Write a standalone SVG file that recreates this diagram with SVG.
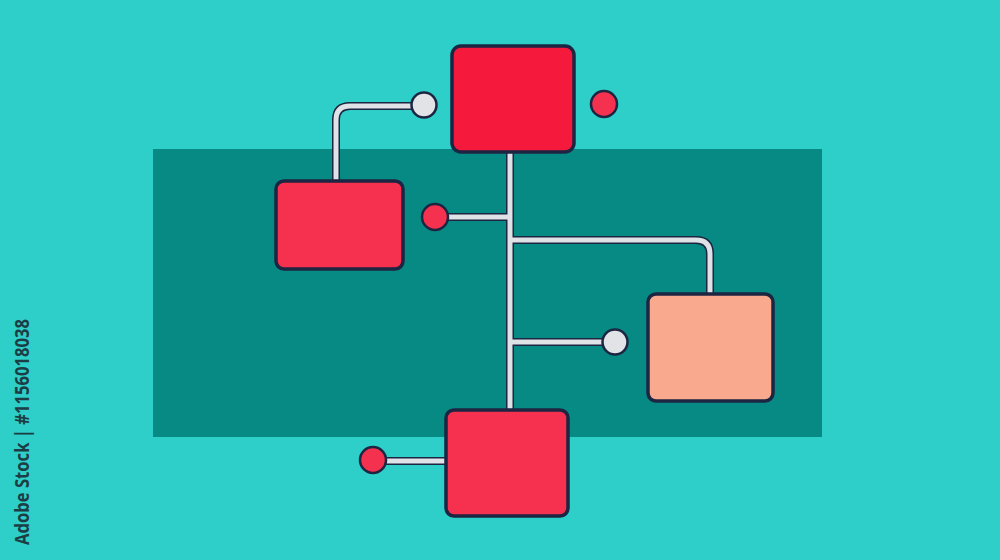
<svg xmlns="http://www.w3.org/2000/svg" width="1000" height="560" viewBox="0 0 1000 560">
<style>
.box{stroke:#1c2541;stroke-width:3.5}
.red{fill:#f6314f}
.red2{fill:#f51a3c}
.peach{fill:#f9aa8e}
.wire-o{fill:none;stroke:#1c2541;stroke-width:8;stroke-linecap:butt}
.wire-i{fill:none;stroke:#dfe2e6;stroke-width:5;stroke-linecap:butt}
.dot{stroke:#1c2541;stroke-width:2.5}
.dred{fill:#f53150}
.dgrey{fill:#e2e3e6}
.label{font-family:"Open Sans","Liberation Sans",sans-serif;font-weight:700;font-size:19px;fill:#1d3d45}
</style>
<rect width="1000" height="560" fill="#2ecfc8"/>
<rect id="panel" x="153" y="149" width="669" height="288" fill="#078a83"/>
<g id="connectors">
  <path class="wire-o" d="M510 153 V410 M336 182 V120 Q336 106 350 106 H412 M448 217 H510 M510 240 H696 Q710 240 710 254 V295 M510 342 H603 M386 461 H447"/>
  <path class="wire-i" d="M510 153 V410 M336 182 V120 Q336 106 350 106 H412 M448 217 H508 M512 240 H696 Q710 240 710 254 V295 M512 342 H603 M386 461 H447"/>
</g>
<g id="node-top"><rect class="box red2" x="452" y="46" width="122" height="106" rx="9"/></g>
<g id="node-left"><rect class="box red" x="276" y="181" width="127" height="88" rx="8"/></g>
<g id="node-right"><rect class="box peach" x="648" y="294" width="125" height="107" rx="8"/></g>
<g id="node-bottom"><rect class="box red" x="446" y="410" width="122" height="106" rx="8"/></g>
<g id="dot-top-right"><circle class="dot dred" cx="604" cy="104" r="13"/></g>
<g id="dot-left-top"><circle class="dot dgrey" cx="424" cy="105" r="12.5"/></g>
<g id="dot-left-mid"><circle class="dot dred" cx="435" cy="217" r="13"/></g>
<g id="dot-right-mid"><circle class="dot dgrey" cx="615" cy="342" r="12.5"/></g>
<g id="dot-bottom-left"><circle class="dot dred" cx="373" cy="460" r="13"/></g>
<text class="label" transform="translate(29 432) rotate(-90)" text-anchor="middle" textLength="226" lengthAdjust="spacingAndGlyphs">Adobe Stock | #1156018038</text>
</svg>
